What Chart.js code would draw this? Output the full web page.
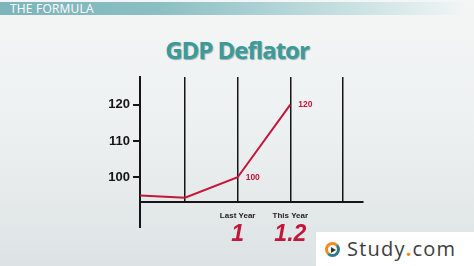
<!DOCTYPE html>
<html><head><meta charset="utf-8">
<script src="https://cdn.jsdelivr.net/npm/chart.js@4/dist/chart.umd.min.js"></script>
<style>
html,body{margin:0;padding:0;}
body{width:474px;height:266px;overflow:hidden;position:relative;background:linear-gradient(to bottom,#f4f6f6 0%,#eef1f1 45%,#dde3e5 100%);font-family:"Open Sans",sans-serif;}
#bar{position:absolute;left:0;top:2px;width:462px;height:13px;background:linear-gradient(to right,#7bb4ba 0%,#8cbfc3 35%,#cfe4e5 80%,rgba(238,244,244,0.6) 100%);}
#bar span{position:absolute;left:10px;top:-1px;color:#fff;font-size:12px;line-height:15px;letter-spacing:0.2px;}
#title{position:absolute;left:0;width:474px;top:34px;text-align:center;font-family:"Open Sans",sans-serif;font-weight:700;font-size:24px;line-height:32px;color:#3d9a9b;letter-spacing:-1px;text-shadow:1px 1px 1px rgba(30,80,80,0.45);}
#wrap{position:absolute;left:0;top:0;width:474px;height:266px;}
#logo{position:absolute;left:316px;top:232px;width:158px;height:34px;background:#fff;}
#icon{position:absolute;left:9px;top:10px;width:9px;height:9px;border-radius:50%;border:3px solid #f48a1e;border-right-color:#2f7d88;border-bottom-color:#2f7d88;}
#icon:after{content:"";position:absolute;left:3px;top:1.5px;border-left:5px solid #333;border-top:3px solid transparent;border-bottom:3px solid transparent;}
#brand{position:absolute;left:31px;top:3px;font-family:"Open Sans",sans-serif;font-size:20px;line-height:28px;color:#3d3d3d;letter-spacing:1.2px;}
#brand b{color:#f48a1e;font-weight:700;}
</style>
</head>
<body>
<div id="bar"><span>THE FORMULA</span></div>
<div id="title">GDP Deflator</div>
<div id="wrap"><canvas id="c" width="474" height="266"></canvas></div>
<div id="logo"><div id="icon"></div><div id="brand">Study<b>.</b>com</div></div>
<script>
// ---- data ----
const xPositions = [0.15, 1, 2, 3];
const deflator = [95, 94.4, 100, 120];
const pointLabels = ['', '', '100', '120'];
const gridTicks = [1, 2, 3, 4];
const yearLabels = ['', 'Last Year', 'This Year', ''];
const ratioLabels = ['', '1', '1.2', ''];
const yTicks = [100, 110, 120];

const RED = '#c4163a';
const INK = '#151515';

const pointLabelPlugin = {
  id: 'pointLabels',
  afterDatasetsDraw(chart) {
    const ctx = chart.ctx;
    const meta = chart.getDatasetMeta(0);
    ctx.save();
    ctx.font = 'bold 8.5px "Liberation Sans", Arial, sans-serif';
    ctx.fillStyle = RED;
    ctx.textBaseline = 'middle';
    ctx.textAlign = 'left';
    meta.data.forEach((pt, i) => {
      if (pointLabels[i]) ctx.fillText(pointLabels[i], pt.x + 8, pt.y);
    });
    ctx.restore();
  }
};
const axisExtend = {
  id: 'axisExtend',
  afterDraw(chart) {
    const a = chart.chartArea, ctx = chart.ctx;
    ctx.save();
    ctx.strokeStyle = INK;
    ctx.lineWidth = 2;
    ctx.beginPath();
    ctx.moveTo(a.left, a.bottom);
    ctx.lineTo(a.left, a.bottom + 26);
    ctx.stroke();
    ctx.restore();
  }
};

new Chart(document.getElementById('c'), {
  type: 'line',
  data: {
    datasets: [{
      data: xPositions.map((x, i) => ({x: x, y: deflator[i]})),
      borderColor: RED,
      borderWidth: 2,
      pointRadius: 0,
      tension: 0,
      fill: false
    }]
  },
  options: {
    responsive: false,
    devicePixelRatio: 1,
    animation: false,
    layout: {padding: {left: 0, right: 111, top: 77, bottom: 0}},
    plugins: {legend: {display: false}, tooltip: {enabled: false}, title: {display: false}},
    scales: {
      x: {
        type: 'linear', position: 'bottom', min: 0.1456, max: 4.38,
        afterBuildTicks: s => { s.ticks = gridTicks.map(v => ({value: v})); },
        afterFit: s => { s.height = 20; },
        ticks: {
          callback: (v, i) => yearLabels[i],
          font: {family: '"Liberation Sans", Arial, sans-serif', weight: 'bold', size: 8},
          color: '#222', padding: 9, maxRotation: 0, autoSkip: false
        },
        grid: {color: INK, lineWidth: 1.5, drawTicks: false},
        border: {color: INK, width: 2}
      },
      x2: {
        type: 'linear', position: 'bottom', min: 0.1456, max: 4.38,
        afterBuildTicks: s => { s.ticks = gridTicks.map(v => ({value: v})); },
        afterFit: s => { s.height = 44; },
        ticks: {
          callback: (v, i) => ratioLabels[i],
          font: {family: '"Liberation Sans", Arial, sans-serif', weight: 'bold', style: 'italic', size: 23},
          color: RED, padding: -1, maxRotation: 0, autoSkip: false
        },
        grid: {display: false, drawTicks: false},
        border: {display: false}
      },
      y: {
        min: 93.2, max: 127.6,
        afterBuildTicks: s => { s.ticks = yTicks.map(v => ({value: v})); },
        afterFit: s => { s.width = 140; },
        ticks: {
          font: {family: '"Liberation Sans", Arial, sans-serif', weight: 'bold', size: 13},
          color: INK, padding: 3
        },
        grid: {drawOnChartArea: false, drawTicks: true, tickLength: 7, lineWidth: 2, color: INK},
        border: {color: INK, width: 2}
      }
    }
  },
  plugins: [pointLabelPlugin, axisExtend]
});
</script>
</body></html>
